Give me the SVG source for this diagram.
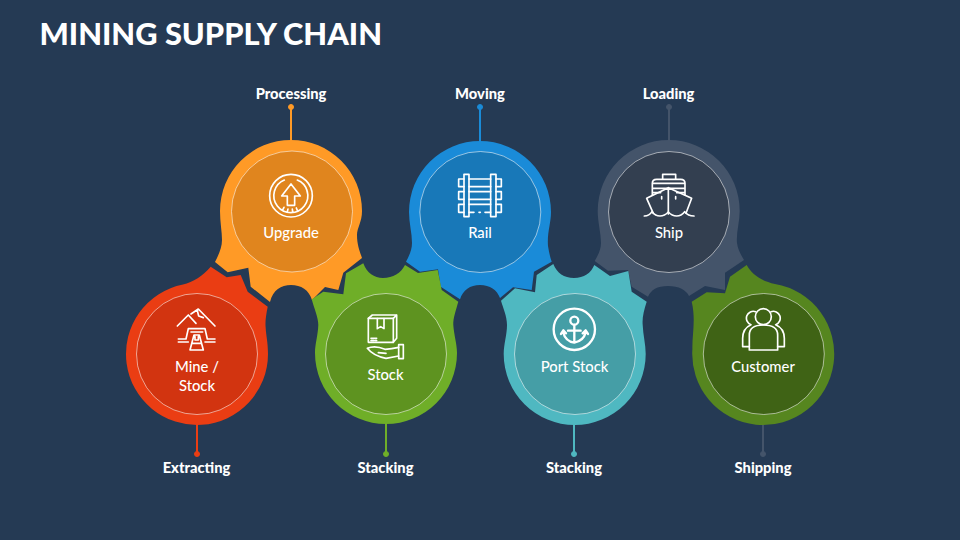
<svg xmlns="http://www.w3.org/2000/svg" width="960" height="540" viewBox="0 0 960 540">
<style>
text{font-family:"Lato","Liberation Sans",sans-serif;fill:#fff;text-anchor:middle}
.title{font-size:31px;font-weight:900;text-anchor:start}
.cap{font-size:14.700px;font-weight:900}
.lab{font-size:14.800px;font-weight:500}
.ring{stroke:#fff;stroke-opacity:.55;stroke-width:1}
.ico{fill:none;stroke:#fff;stroke-width:5;stroke-linejoin:round;stroke-linecap:round}
.stem{stroke-width:2}
</style>
<rect width="960" height="540" fill="#253A54"/>
<text class="title" x="39.500" y="45" textLength="342.500" lengthAdjust="spacingAndGlyphs">MINING SUPPLY CHAIN</text>
<g id="connectors">
<g stroke="#FF9A26" fill="#FF9A26"><line class="stem" x1="291" y1="107" x2="291" y2="141"/><circle cx="291" cy="107" r="2.500"/></g>
<g stroke="#1A8BD8" fill="#1A8BD8"><line class="stem" x1="480" y1="107" x2="480" y2="141"/><circle cx="480" cy="107" r="2.500"/></g>
<g stroke="#44546A" fill="#44546A"><line class="stem" x1="669" y1="107" x2="669" y2="141"/><circle cx="669" cy="107" r="2.500"/></g>
<g stroke="#EA3D13" fill="#EA3D13"><line class="stem" x1="197" y1="424" x2="197" y2="454"/><circle cx="197" cy="454" r="2.500"/></g>
<g stroke="#6FAE28" fill="#6FAE28"><line class="stem" x1="386" y1="423" x2="386" y2="454"/><circle cx="386" cy="454" r="2.500"/></g>
<g stroke="#4FB8C1" fill="#4FB8C1"><line class="stem" x1="574" y1="424" x2="574" y2="454"/><circle cx="574" cy="454" r="2.500"/></g>
<g stroke="#44546A" fill="#44546A"><line class="stem" x1="763" y1="424" x2="763" y2="454"/><circle cx="763" cy="454" r="2.500"/></g>
</g>

<g id="node-mine">
<path fill="#EA3D13" d="M210.700,266.700 L226.700,277.300 L240.700,275 L247.700,291.700 L267.700,306.700 C266,315 265,322 265.700,328 C266,335 268,342 268,354 A71 71 0 1 1 183,284.400 C193,282 203,276 210.700,266.700 Z"/>
<circle class="ring" cx="197" cy="354" r="60.500" fill="#D23410"/>
<g class="ico" transform="translate(120,240) scale(.3333)">
<path d="M172,258 L205,225 L228,250 M213,222 L235,207 L285,258 M232,212 L236,228 L250,233"/>
<path d="M205,266 H255 L262,297 H285 M205,266 L198,297 H175 M213,276 H248 M175,306 H205 M255,306 H285"/>
<path d="M210,330 L222,285 H238 L250,330 Z M216,310 H244 M225,290 V300 H235 V290"/>
</g>
<text class="lab" x="197" y="372">Mine /</text>
<text class="lab" x="197" y="391">Stock</text>
<text class="cap" x="196.500" y="473">Extracting</text>
</g>

<g id="node-upgrade">
<path fill="#FF9A26" d="M220,211 A71 71 0 1 1 362,211 C362,222 357,228 357,235 C357,245 360,252 362,258 L343.300,272.700 L338.300,290 L325,287 L312,300 C309,290 301,285 291,285 C281,285 273,290 270,302 L250.700,286.700 L248.300,267.700 L227.700,272.300 L215,262 C218,256 222,248 222,240 C222,232 220,222 220,211 Z"/>
<circle class="ring" cx="292" cy="211.500" r="60.500" fill="#E0851E"/>
<g class="ico" transform="translate(210,100) scale(.3333)">
<circle cx="243" cy="287" r="64"/>
<path d="M262,240 A51 51 0 1 1 223,240 M272,245 A51 51 0 0 1 293,282 M218,330 L222,322 M232,335 L234,327 M248,335 L247,327 M262,331 L259,324 M232,316 V288 H215 L243,252 L271,288 H254 V316 Z"/>
</g>
<text class="lab" x="291" y="238">Upgrade</text>
<text class="cap" x="291" y="99">Processing</text>
</g>

<g id="node-rail">
<path fill="#1A8BD8" d="M409,212 A71 71 0 1 1 551,212 C551,223 547,233 548,246 C549,252 550,257 551.700,261.700 L534,271.700 L531.700,290 L513,287.300 L500,298 C497,290 490,285 480,285 C470,285 463,290 460,299.300 L440.700,286.700 L438,269.300 L420,271.700 L406,261.700 C409,256 412,250 412,243 C412,233 409,223 409,212 Z"/>
<circle class="ring" cx="480.300" cy="212" r="60.500" fill="#1878B8"/>
<g class="ico" transform="translate(400,130) scale(.3333)">
<rect x="192" y="133" width="15" height="127"/><rect x="272" y="133" width="16" height="127"/>
<path d="M192,147 H176 V170 H192 M192,185 H176 V208 H192 M192,223 H176 V247 H192 M288,147 H304 V170 H288 M288,185 H304 V208 H288 M288,223 H304 V247 H288 M207,147 H272 M207,170 H272 M207,185 H272 M207,208 H272 M207,223 H272 M207,247 H222 M237,247 H241 M255,247 H272"/>
</g>
<text class="lab" x="480" y="238">Rail</text>
<text class="cap" x="480" y="99">Moving</text>
</g>

<g id="node-ship">
<path fill="#44546A" d="M597.700,211 A71 71 0 1 1 739.700,211 C739.700,222 736,233 737,243 C738,250 741,255 744,260 L725,272.700 L725,290 L705,286 L689,296 C686,290 679,286 668,286 C657,286 651,290 648,296.700 L631.700,286.700 L628,270 L608,270.700 L594.700,261 C598,255 601,250 601,243 C601,233 597.700,222 597.700,211 Z"/>
<circle class="ring" cx="669" cy="212" r="60.500" fill="#333F50"/>
<g class="ico" transform="translate(590,130) scale(.3333)">
<path d="M218,148 V133 H257 V148 M187,195 V160 Q187,148 200,148 H272 Q285,148 285,160 V195 M187,160 H285 M187,175 H285 M187,188 H212 M260,188 H285"/>
<path d="M190,250 L170,205 L235,173 L305,205 L288,250 M235,173 V252 M215,200 V207 M257,200 V207"/>
<path d="M163,258 Q178,258 186,245 Q196,258 210,258 Q224,258 235,246 Q246,258 260,258 Q274,258 284,245 Q294,258 312,258"/>
</g>
<text class="lab" x="669" y="238">Ship</text>
<text class="cap" x="668.500" y="99">Loading</text>
</g>

<g id="node-stock">
<path fill="#6FAE28" d="M311.700,299.300 L323.300,291.700 L343.300,294.300 L346,273.300 L363.300,263.300 C367,273 374,278 383,278 C393,278 401,273 405,265 L418,273 L437.700,270 L441.700,290 L458.300,301.700 C456,310 453,318 453.300,325 C454,335 457,344 457,353 A71 71 0 1 1 315,353 C315,344 318,335 318.300,325 C318.500,318 314,308 311.700,299.300 Z"/>
<circle class="ring" cx="386" cy="354" r="60.500" fill="#5E9320"/>
<g class="ico" transform="translate(310,260) scale(.3333)">
<rect x="175" y="175" width="75" height="72"/>
<path d="M175,175 L187,165 H260 V235 L250,247 M250,175 L260,165 M202,176 V206 L212,200 L222,206 V176 M183,235 H200 M183,242 H192 M196,242 H200"/>
<rect x="266" y="254" width="14" height="42"/>
<path d="M266,262 Q245,266 225,268 Q195,255 172,265 Q190,288 228,295 L266,288 M205,278 L228,280"/>
</g>
<text class="lab" x="385.500" y="380">Stock</text>
<text class="cap" x="385.500" y="473">Stacking</text>
</g>

<g id="node-port">
<path fill="#4FB8C1" d="M501,300.700 L515,288.300 L535,292.300 L536.700,275 L553.300,264 C557,273 564,278 574,278 C584,278 591,273 594.300,265 L610,276 L628.300,271 L631.700,291.700 L646.700,301.700 C644,310 642,318 642.700,325 C643,335 645.700,344 645.700,354 A71 71 0 1 1 503.700,354 C503.700,344 507,335 507,325 C507,316 503,308 501,300.700 Z"/>
<circle class="ring" cx="575" cy="354" r="60.500" fill="#459EA6"/>
<g class="ico" transform="translate(500,260) scale(.3333)">
<circle cx="223" cy="208" r="62" stroke-width="7"/>
<circle cx="223" cy="182" r="12" stroke-width="7"/>
<path stroke-width="7" d="M223,195 V247 M204,212 H242 M190,218 Q196,243 223,248 Q250,243 257,218 M183,222 L190,211 L198,220 M248,220 L257,211 L264,222"/>
</g>
<text class="lab" x="574.500" y="372">Port Stock</text>
<text class="cap" x="574" y="473">Stacking</text>
</g>

<g id="node-customer">
<path fill="#56861F" d="M746.700,265 C752,275 762,281 775,284 A71 71 0 1 1 692.400,349 C692,335 696,320 691.700,301.700 L706.700,292.300 L725,293.300 L730,276.700 Z"/>
<circle class="ring" cx="763.800" cy="354" r="60.500" fill="#3F6315"/>
<g class="ico" transform="translate(685,260) scale(.3333)">
<circle cx="235" cy="170" r="24"/>
<path d="M193,270 V225 Q193,195 235,195 Q278,195 278,225 V270 Z"/>
<path d="M212,155 A20 20 0 0 0 198,194 Q173,205 173,235 V260 H193 M258,155 A20 20 0 0 1 272,194 Q298,205 298,235 V260 H278"/>
</g>
<text class="lab" x="763" y="372">Customer</text>
<text class="cap" x="763" y="473">Shipping</text>
</g>
</svg>
